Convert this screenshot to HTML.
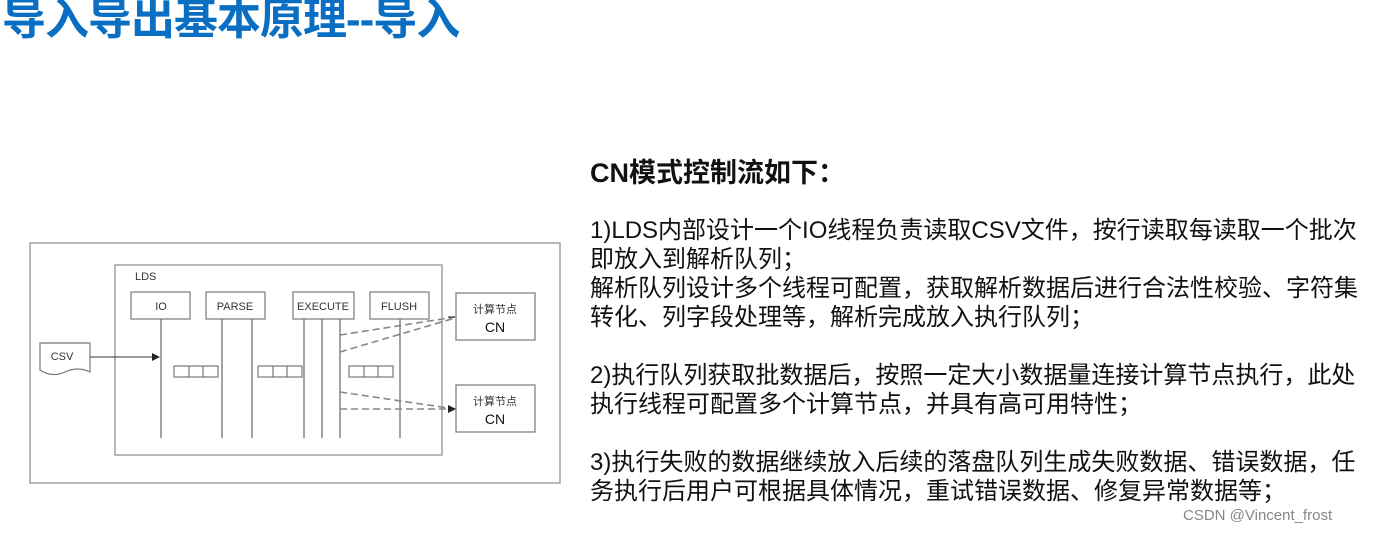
<!DOCTYPE html>
<html><head><meta charset="utf-8"><style>
body{margin:0;width:1378px;height:535px;background:#fff;position:relative;overflow:hidden;font-family:"Liberation Sans","Noto Sans CJK SC",sans-serif}
.t{position:absolute;left:2px;top:-17px;font-size:44px;font-weight:bold;color:#0a6fc2;white-space:nowrap;letter-spacing:-1px}
.h{position:absolute;left:590px;top:151px;font-size:27px;font-weight:bold;color:#111;white-space:nowrap}
.b{position:absolute;left:590px;top:216px;font-size:24px;line-height:29px;color:#111;white-space:nowrap}
.w{position:absolute;left:1183px;top:507px;font-size:15px;color:#888}
</style></head><body>
<div class="t">导入导出基本原理--导入</div>
<svg style="position:absolute;left:0;top:0" width="1378" height="535" font-family="Liberation Sans,Noto Sans CJK SC,sans-serif">
<defs><marker id="a" markerWidth="8" markerHeight="8" refX="7" refY="4" orient="auto"><path d="M0,0L8,4L0,8z" fill="#222"/></marker></defs>
<g fill="none" stroke="#888" stroke-width="1.2">
<rect x="30" y="243" width="530" height="240"/>
<rect x="115" y="265" width="327" height="190"/>
</g>
<g fill="#fff" stroke="#777" stroke-width="1.2">
<rect x="131" y="292" width="59" height="27"/>
<rect x="206" y="292" width="59" height="27"/>
<rect x="293" y="292" width="61" height="27"/>
<rect x="370" y="292" width="59" height="27"/>
<rect x="456" y="293" width="79" height="47"/>
<rect x="456" y="385" width="79" height="47"/>
<path d="M40,343H90V372Q78,366 65,372Q52,378 40,370Z"/>
<rect x="174" y="366" width="44" height="11"/><path d="M189,366V377M203,366V377"/>
<rect x="258" y="366" width="44" height="11"/><path d="M273,366V377M287,366V377"/>
<rect x="349" y="366" width="44" height="11"/><path d="M364,366V377M378,366V377"/>
</g>
<g stroke="#666" stroke-width="1.2">
<path d="M161,319V438M222,319V438M252,319V438M304,319V438M322,319V438M340,319V438M400,319V438"/>
</g>
<path d="M90,357H159" stroke="#333" stroke-width="1" marker-end="url(#a)"/>
<g fill="none" stroke="#888" stroke-width="1.6" stroke-dasharray="7,4">
<path d="M340,335L455,317"/><path d="M340,352L455,318"/>
<path d="M340,392L455,409"/><path d="M340,409L455,409"/>
</g>
<path d="M448,317L455,317M448,409L455,409" stroke="#222" marker-end="url(#a)"/>
<g font-size="11" fill="#333" text-anchor="middle">
<text x="135" y="280" text-anchor="start">LDS</text>
<text x="161" y="310">IO</text><text x="235" y="310">PARSE</text>
<text x="323" y="310">EXECUTE</text><text x="399" y="310">FLUSH</text>
<text x="62" y="360">CSV</text>
<text x="495" y="313">计算节点</text><text x="495" y="405">计算节点</text>
</g>
<g font-size="14" fill="#111" text-anchor="middle"><text x="495" y="332">CN</text><text x="495" y="424">CN</text></g>
</svg>
<div class="h">CN模式控制流如下：</div>
<div class="b">1)LDS内部设计一个IO线程负责读取CSV文件，按行读取每读取一个批次<br>即放入到解析队列；<br>解析队列设计多个线程可配置，获取解析数据后进行合法性校验、字符集<br>转化、列字段处理等，解析完成放入执行队列；<br><br>2)执行队列获取批数据后，按照一定大小数据量连接计算节点执行，此处<br>执行线程可配置多个计算节点，并具有高可用特性；<br><br>3)执行失败的数据继续放入后续的落盘队列生成失败数据、错误数据，任<br>务执行后用户可根据具体情况，重试错误数据、修复异常数据等；</div>
<div class="w">CSDN @Vincent_frost</div>
</body></html>
